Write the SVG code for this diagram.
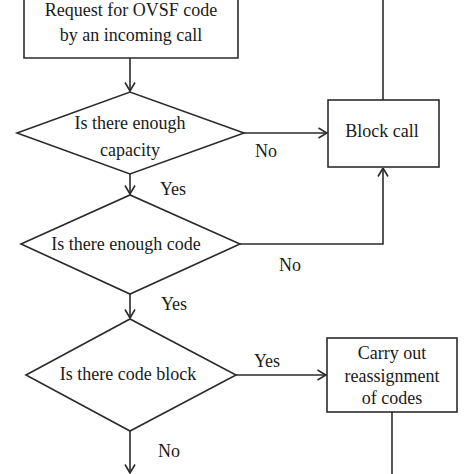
<svg xmlns="http://www.w3.org/2000/svg" width="474" height="474" viewBox="0 0 474 474">
<style>
.s{fill:none;stroke:#2b2b2b;stroke-width:1.6}
.t{font-family:"Liberation Serif","Times New Roman",serif;font-size:18px;fill:#1a1a1a;text-anchor:middle}
</style>
<defs>
<marker id="a" viewBox="0 0 10 12" refX="9.5" refY="6" markerWidth="10" markerHeight="12" markerUnits="userSpaceOnUse" orient="auto">
<path d="M1,1 L9.5,6 L1,11" fill="none" stroke="#2b2b2b" stroke-width="1.6"/>
</marker>
</defs>
<rect width="474" height="474" fill="#fff"/>
<g id="connectors">
<line class="s" x1="130" y1="58" x2="130" y2="91" marker-end="url(#a)"/>
<line class="s" x1="244" y1="133" x2="327" y2="133" marker-end="url(#a)"/>
<line class="s" x1="383" y1="100" x2="383" y2="-2"/>
<line class="s" x1="130" y1="174" x2="130" y2="194" marker-end="url(#a)"/>
<polyline class="s" points="240,244 383,244 383,168" marker-end="url(#a)"/>
<line class="s" x1="130" y1="294" x2="130" y2="318" marker-end="url(#a)"/>
<line class="s" x1="236" y1="375" x2="326" y2="375" marker-end="url(#a)"/>
<line class="s" x1="392" y1="412" x2="392" y2="476"/>
<line class="s" x1="130" y1="431" x2="130" y2="473" marker-end="url(#a)"/>
<text class="t" x="266" y="157">No</text>
<text class="t" x="173" y="195">Yes</text>
<text class="t" x="290" y="271">No</text>
<text class="t" x="174" y="310">Yes</text>
<text class="t" x="267" y="367">Yes</text>
<text class="t" x="169" y="457">No</text>
</g>
<g id="request">
<path class="s" d="M24,-2 V58 H238 V-2"/>
<text class="t" x="131" y="15.5">Request for OVSF code</text>
<text class="t" x="131" y="41">by an incoming call</text>
</g>
<g id="capacity">
<polygon class="s" points="17,133 130,92 244,133 130,174"/>
<text class="t" x="130" y="129">Is there enough</text>
<text class="t" x="130" y="156">capacity</text>
</g>
<g id="block">
<rect class="s" x="328" y="100" width="111" height="67"/>
<text class="t" x="382" y="137">Block call</text>
</g>
<g id="code">
<polygon class="s" points="21,244 130,195 240,244 130,294"/>
<text class="t" x="126" y="250">Is there enough code</text>
</g>
<g id="codeblock">
<polygon class="s" points="26,375 130,319 236,375 130,431"/>
<text class="t" x="128" y="380">Is there code block</text>
</g>
<g id="reassign">
<rect class="s" x="327" y="338" width="130" height="74"/>
<text class="t" x="392" y="359">Carry out</text>
<text class="t" x="392" y="382">reassignment</text>
<text class="t" x="392" y="404">of codes</text>
</g>
</svg>
